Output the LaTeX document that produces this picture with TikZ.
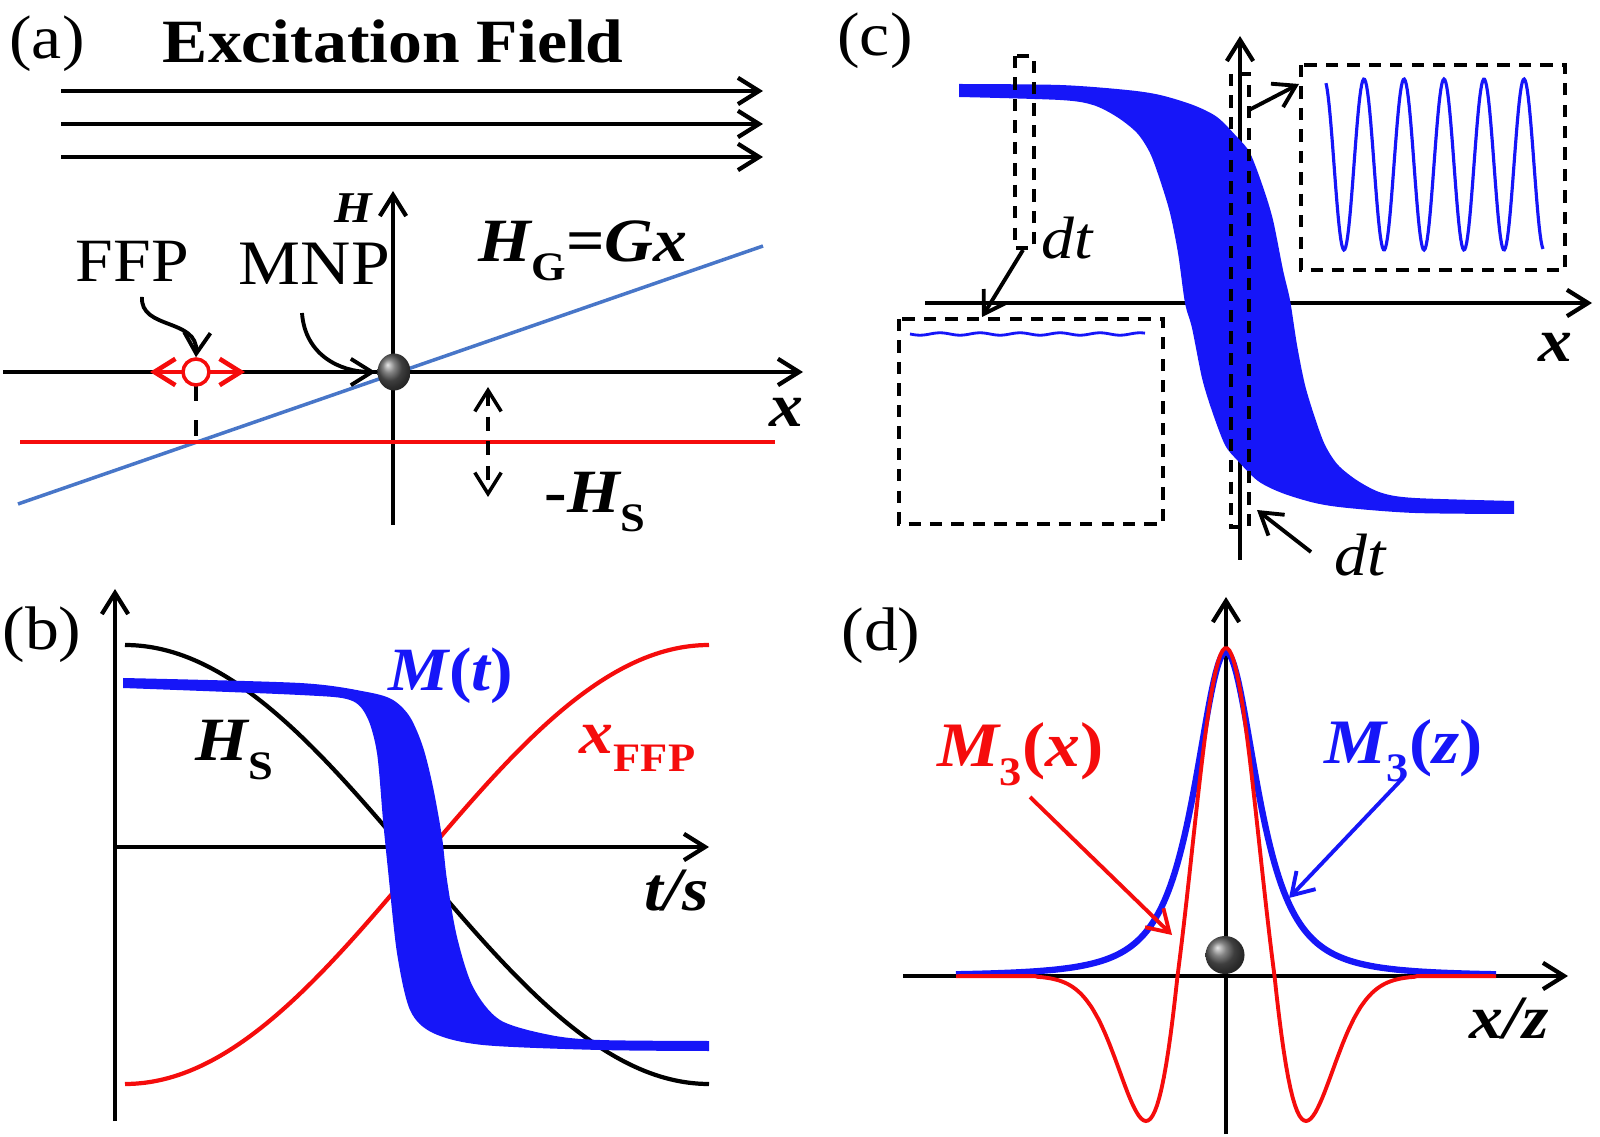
\documentclass[tikz,border=0pt]{standalone}
\usepackage{fontspec}
\setmainfont{Liberation Serif}[FakeStretch=1.1]
\usetikzlibrary{arrows.meta,shapes.geometric}
\definecolor{bandblue}{RGB}{22,22,248}
\definecolor{gradblue}{RGB}{72,118,200}
\definecolor{ffpred}{RGB}{245,12,12}
\newcommand{\sbs}[1]{\raisebox{-0.3em}{\fontsize{11.5}{12}\selectfont\upshape #1}}
\tikzset{
  axis/.style={->, line width=1.2pt},
  dashbox/.style={line width=1pt, dash pattern=on 3.5pt off 2.6pt},
  lbl/.style={inner sep=0pt, font=\fontsize{17.5}{20}\selectfont},
  mlbl/.style={inner sep=0pt, font=\fontsize{17.5}{20}\selectfont\bfseries\itshape},
  particle/.style={ellipse, shading=ball, ball color=black!65, inner sep=0pt},
  declare function={rk(\t)=(1-(\t/48.5)^2)*exp(-(\t/63.6)^2);
                    lz(\t)=(1+(\t/48)^2)^(-1.5);}
}
\begin{document}
\begin{tikzpicture}[> = {Straight Barb[length=6pt,width=7.5pt]}, x=0.01cm, y=-0.01cm, line width=1.1pt]
  \useasboundingbox (0,0) rectangle (1600,1137);

  % (a) excitation field and gradient field
  \node[lbl] (pa) at (47,44) {(a)};
  \node[lbl, font=\fontsize{17.5}{20}\selectfont\bfseries, anchor=base west] (exc) at (161,63) {Excitation Field};
  \foreach \yy in {91,124,157}
    \draw[->, line width=1.2pt] (61,\yy) -- (763,\yy);
  \draw[axis] (3,372) -- (803,372);
  \draw[axis] (393,525) -- (393,191);
  \draw[gradblue, line width=1pt] (18,504) -- (763,246);
  \draw[ffpred, line width=1.1pt] (20,442) -- (775,442);
  \draw[line width=1.1pt, dash pattern=on 4.5pt off 5.5pt] (196,385) -- (196,442);
  \draw[ffpred, <->, line width=1.3pt] (150,372) -- (245,372);
  \node[draw=ffpred, fill=white, circle, line width=1pt, minimum size=0.26cm, inner sep=0pt] (ffp0) at (196,372) {};
  \node[particle, minimum width=0.33cm, minimum height=0.37cm] (mnp0) at (394,372) {};
  \draw[<->, line width=1pt, dash pattern=on 4pt off 3pt] (488,387) -- (488,497);
  \node[mlbl, font=\fontsize{12.5}{14}\selectfont\bfseries\itshape, anchor=base west] (haxis) at (333,223) {H};
  \node[lbl, anchor=base west] (ffpl) at (74,282) {FFP};
  \node[lbl, font=\fontsize{18}{20}\selectfont, anchor=base west] (mnpl) at (237,285) {MNP};
  \node[mlbl, anchor=base west] (hg) at (477,262) {H\sbs{G}{\upshape =}Gx};
  \node[mlbl, anchor=base west] (xa) at (768,427) {x};
  \node[mlbl, anchor=base west] (hs) at (543,513) {{\upshape -}H\sbs{S}};
  \coordinate (ffpTail) at (142,297);
  \coordinate (mnpTail) at (302,313);
  \draw[->] (ffpTail) .. controls (140,330) and (198,318) .. (ffp0.north);
  \draw[->] (mnpTail) .. controls (305,355) and (340,372) .. (mnp0.west);

  % (b) signals over time
  \node[lbl] (pb) at (42,635) {(b)};
  \draw[axis] (115,1121) -- (115,589);
  \draw[axis] (117,847) -- (709,847);
  \draw[line width=1.2pt] plot[domain=125:709, samples=120] (\x, {864.5-219.5*cos((\x-125)/584*180)});
  \draw[ffpred, line width=1.2pt] plot[domain=125:709, samples=120] (\x, {864.5+219.5*cos((\x-125)/584*180)});
  \fill[bandblue] plot[smooth] coordinates {(123,678) (300,683) (367,692) (393,700) (410,717) (423,747) (433,787) (442,837) (447,880) (457,937) (473,987) (500,1020) (550,1035) (600,1040) (709,1041)}
    -- plot[smooth] coordinates {(709,1051) (600,1050) (483,1045) (433,1033) (410,1010) (397,953) (388,870) (383,820) (377,753) (367,717) (350,700) (300,695) (123,688)} -- cycle;
  \node[mlbl, bandblue, anchor=base west] (mt) at (387,690) {M{\upshape (}t{\upshape )}};
  \node[mlbl, anchor=base west] (hsb) at (194,761) {H\sbs{S}};
  \node[mlbl, ffpred, anchor=base west] (xffp) at (578,753) {x\sbs{FFP}};
  \node[mlbl, anchor=base west] (ts) at (643,910) {t/s};

  % (c) magnetisation along x
  \node[lbl] (pc) at (875,41) {(c)};
  \draw[axis] (925,303) -- (1592,303);
  \draw[axis] (1240,560) -- (1240,36);
  \fill[bandblue] plot[smooth] coordinates {(959,84) (1060,85) (1127,90) (1160,95) (1193,105) (1217,117) (1237,137) (1250,153) (1263,187) (1273,220) (1283,270) (1290,300) (1297,345) (1305,385) (1315,418) (1325,445) (1338,465) (1358,481) (1382,493) (1415,498) (1514,501)}
    -- plot[smooth] coordinates {(1514,514) (1415,513) (1348,508) (1315,503) (1282,493) (1258,481) (1238,461) (1225,445) (1212,411) (1202,378) (1192,328) (1185,303) (1178,253) (1170,213) (1160,180) (1150,153) (1137,133) (1117,117) (1093,105) (1060,100) (959,97)} -- cycle;
  \draw[dashbox] (1015,56) rectangle (1034,248);
  \draw[dashbox] (1231,74) rectangle (1249,527);
  \draw[dashbox] (1301,65) rectangle (1565,270);
  \draw[dashbox] (899,319) rectangle (1163,524);
  \draw[bandblue, line width=0.9pt] plot[domain=1326:1543, samples=220] (\x, {164.5-85.5*cos(9*(\x-1324))});
  \draw[bandblue, line width=0.8pt] plot[domain=910:1145, samples=160] (\x, {334+1.2*sin(9*(\x-910))});
  \coordinate (zoomHi) at (1249,110);
  \coordinate (insetHi) at (1299,84);
  \coordinate (zoomLo) at (1023,250);
  \coordinate (insetLo) at (982,317);
  \coordinate (dtTail) at (1311,552);
  \coordinate (dtHead) at (1257,510);
  \draw[->] (zoomHi) -- (insetHi);
  \draw[->] (zoomLo) -- (insetLo);
  \draw[->] (dtTail) -- (dtHead);
  \node[lbl, font=\fontsize{17}{20}\selectfont\itshape, anchor=base west] (dt1) at (1040,259) {dt};
  \node[lbl, font=\fontsize{17}{20}\selectfont\itshape, anchor=base west] (dt2) at (1333,576) {dt};
  \node[mlbl, anchor=base west] (xc) at (1537,362) {x};

  % (d) third harmonic profiles
  \node[lbl] (pd) at (881,636) {(d)};
  \draw[axis] (1226,1134) -- (1226,597);
  \draw[axis] (903,976) -- (1568,976);
  \draw[bandblue, line width=1.8pt] plot[domain=-270:270, samples=240] ({1226+\x}, {976-324*lz(\x)});
  \draw[ffpred, line width=1.1pt] plot[domain=-270:270, samples=240] ({1226+\x}, {976-328*rk(\x)*(rk(\x)<0 ? 1.25 : 1)});
  \node[particle, minimum width=0.39cm, minimum height=0.38cm] (mnp1) at (1225,955) {};
  \node[mlbl, ffpred, font=\fontsize{18}{20}\selectfont\bfseries\itshape, anchor=base west] (m3x) at (936,767) {M\sbs{3}{\upshape (}x{\upshape )}};
  \node[mlbl, bandblue, font=\fontsize{18}{20}\selectfont\bfseries\itshape, anchor=base west] (m3z) at (1323,763) {M\sbs{3}{\upshape (}z{\upshape )}};
  \node[mlbl, anchor=base west] (xz) at (1468,1038) {x/z};
  \coordinate (m3xTail) at (1030,797);
  \coordinate (m3xHead) at (1172,935);
  \coordinate (m3zTail) at (1403,778);
  \coordinate (m3zHead) at (1289,898);
  \draw[->, ffpred] (m3xTail) -- (m3xHead);
  \draw[->, bandblue] (m3zTail) -- (m3zHead);
\end{tikzpicture}
\end{document}
